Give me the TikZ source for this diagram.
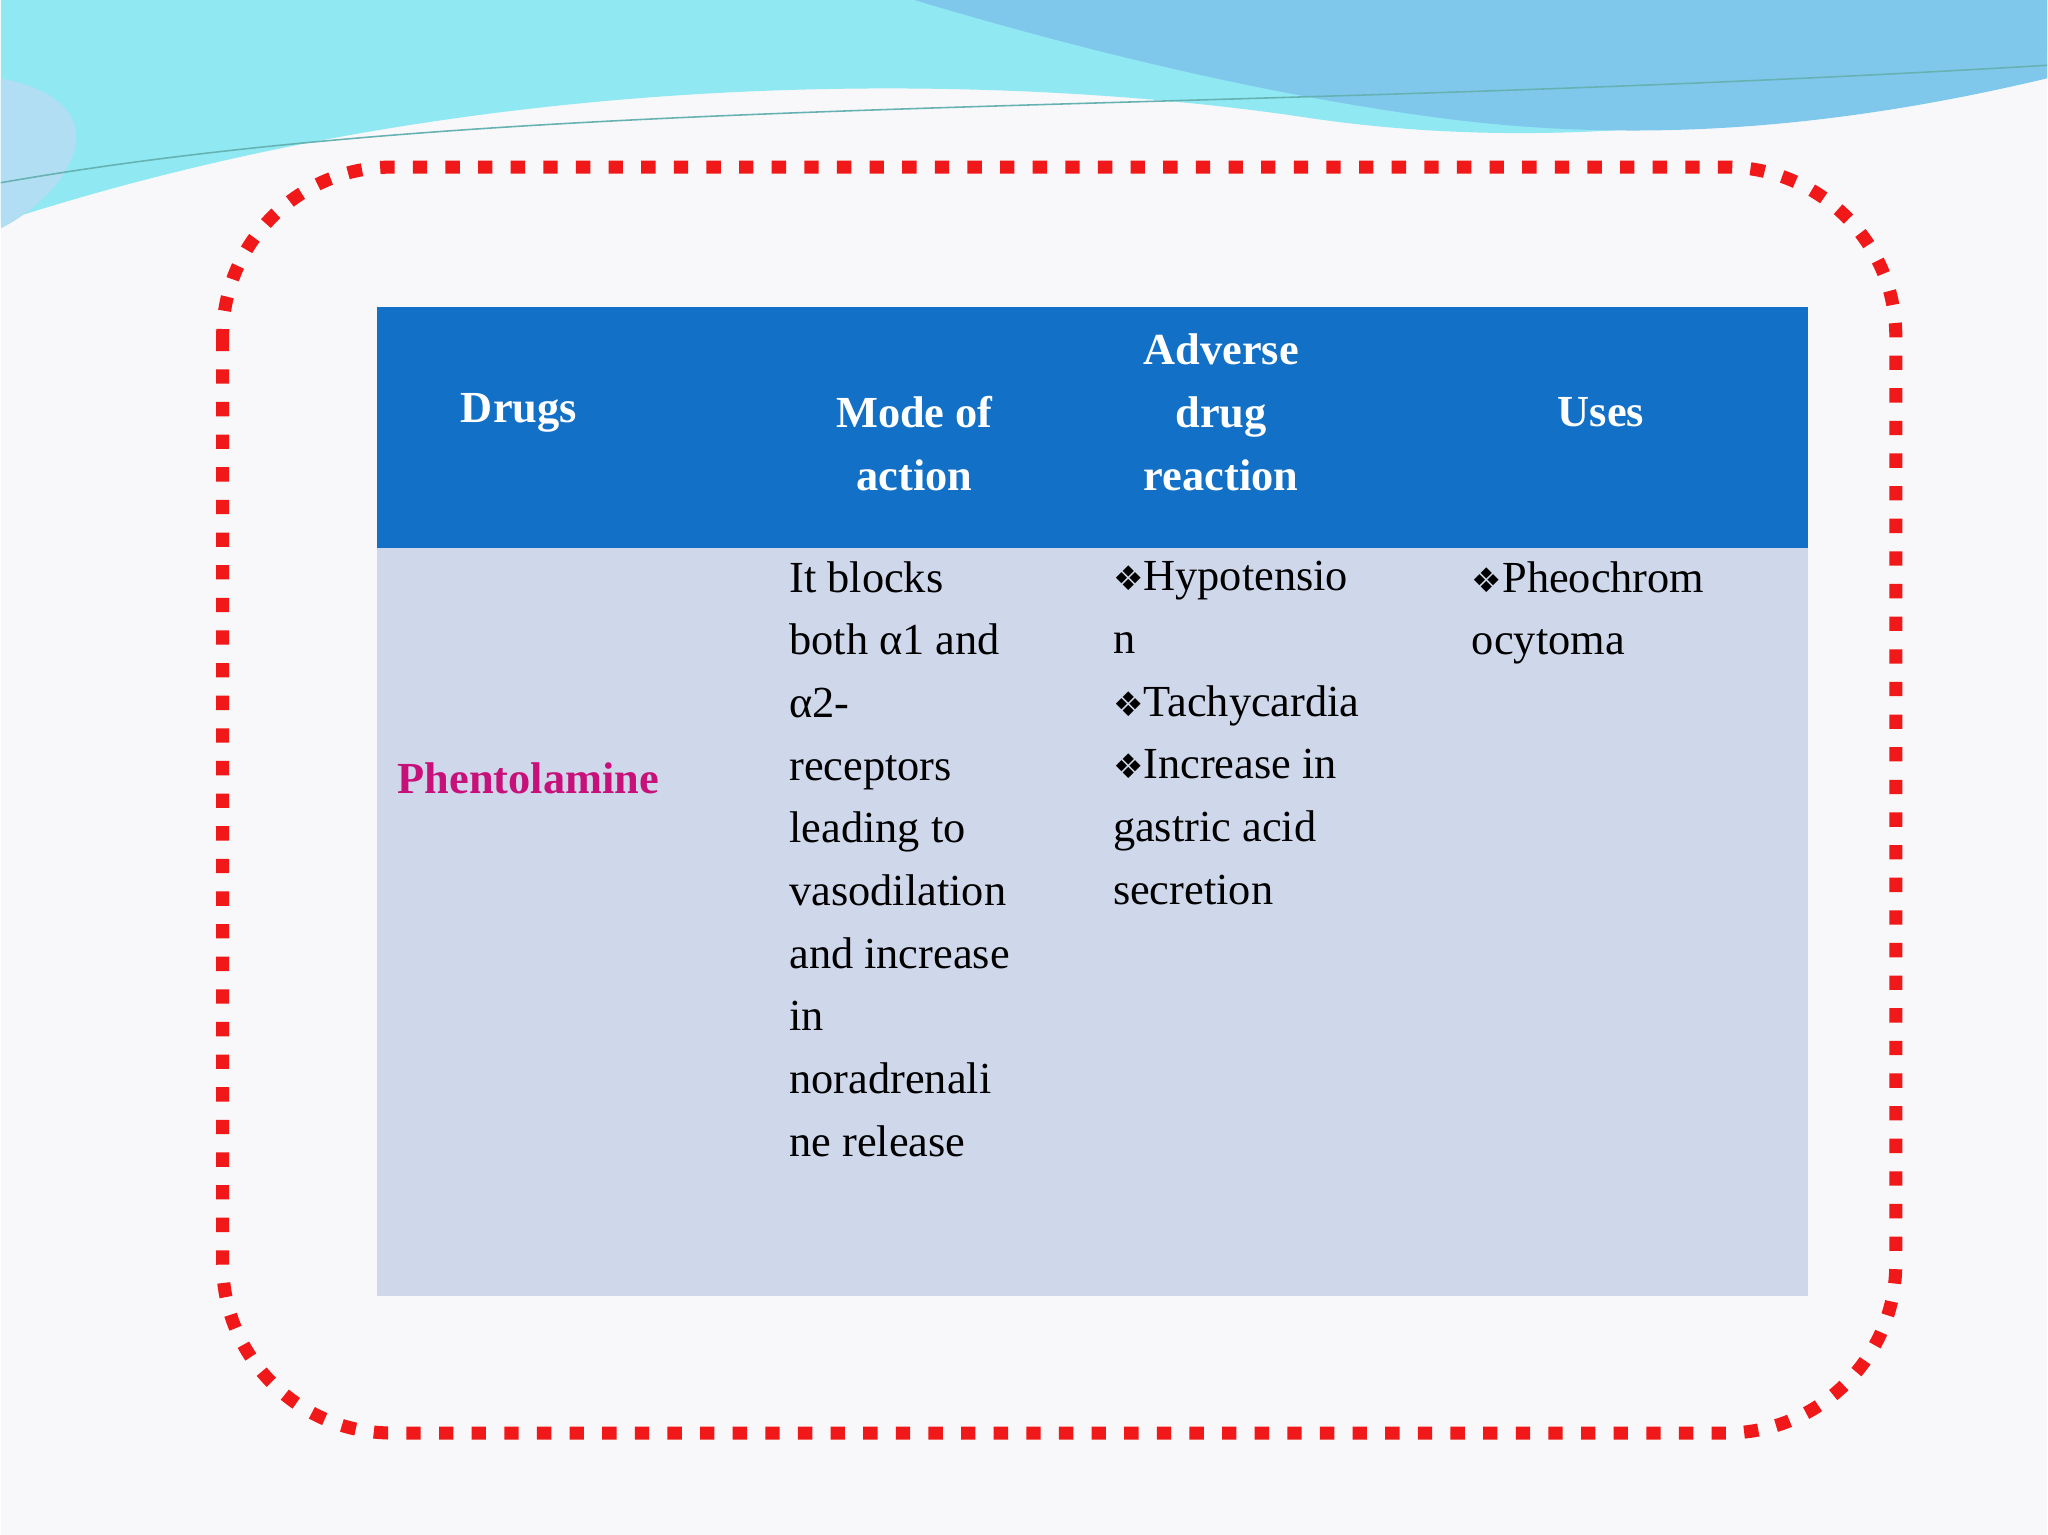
\documentclass[tikz,border=0pt]{standalone}
\usepackage{fontspec}
\setmainfont{Liberation Serif}
\newfontfamily\symfont{DejaVu Sans}
\definecolor{hdr}{HTML}{1270C6}
\definecolor{body}{HTML}{CFD7EA}
\definecolor{mag}{HTML}{C8107A}
\definecolor{dred}{HTML}{F01818}
\definecolor{bg}{HTML}{F8F8FA}
\definecolor{wave1}{HTML}{8FE8F2}
\definecolor{wave2}{HTML}{7FC8EC}
\tikzset{
 cell/.style={anchor=north west,align=left,font=\fontsize{34}{48}\selectfont,inner sep=0pt},
 head/.style={align=center,font=\fontsize{34}{48}\selectfont\bfseries,text=white,inner sep=0pt},
}
\newcommand{\dia}{{\symfont\fontsize{26}{48}\selectfont ❖}}
\begin{document}
\begin{tikzpicture}[x=1pt,y=-1pt]
\fill[bg] (0,0) rectangle (1568,1176);
% top waves
\fill[wave1] (0,0) -- (1568,0) -- (1568,40) .. controls (1400,90) and (1200,120) .. (1000,90) .. controls (800,60) and (400,40) .. (0,170) -- cycle;
\fill[wave2] (700,0) -- (1568,0) -- (1568,60) .. controls (1400,100) and (1250,110) .. (1100,90) .. controls (950,70) and (800,30) .. (700,0) -- cycle;
\fill[wave2!60!white] (0,60) .. controls (100,80) and (50,150) .. (0,175) -- cycle;
\draw[teal!60,line width=1.2pt] (0,140) .. controls (400,70) and (900,90) .. (1568,50);
% dashed border
\draw[dred,line width=10pt,dash pattern=on 11pt off 14pt,rounded corners=130pt] (170,128) rectangle (1452,1098);
% table
\fill[hdr] (288,235) rectangle (1385,420);
\fill[body] (288,420) rectangle (1385,993);
\node[head] (h1) at (397,316) {Drugs};
\node[head] (h2) at (700,340) {Mode of\\action};
\node[head] (h3) at (935,316) {Adverse\\drug\\reaction};
\node[head] (h4) at (1226,316) {Uses};
\node[anchor=west,inner sep=0pt,font=\fontsize{34}{48}\selectfont\bfseries,text=mag] (d) at (304,596) {Phentolamine};
\node[cell] (m) at (604,430) {It blocks\\both α1 and\\α2-\\receptors\\leading to\\vasodilation\\and increase\\in\\noradrenali\\ne release};
\node[cell] (a) at (852,430) {\dia Hypotensio\\n\\\dia Tachycardia\\\dia Increase in\\gastric acid\\secretion};
\node[cell] (u) at (1127,430) {\dia Pheochrom\\ocytoma};
\end{tikzpicture}
\end{document}
